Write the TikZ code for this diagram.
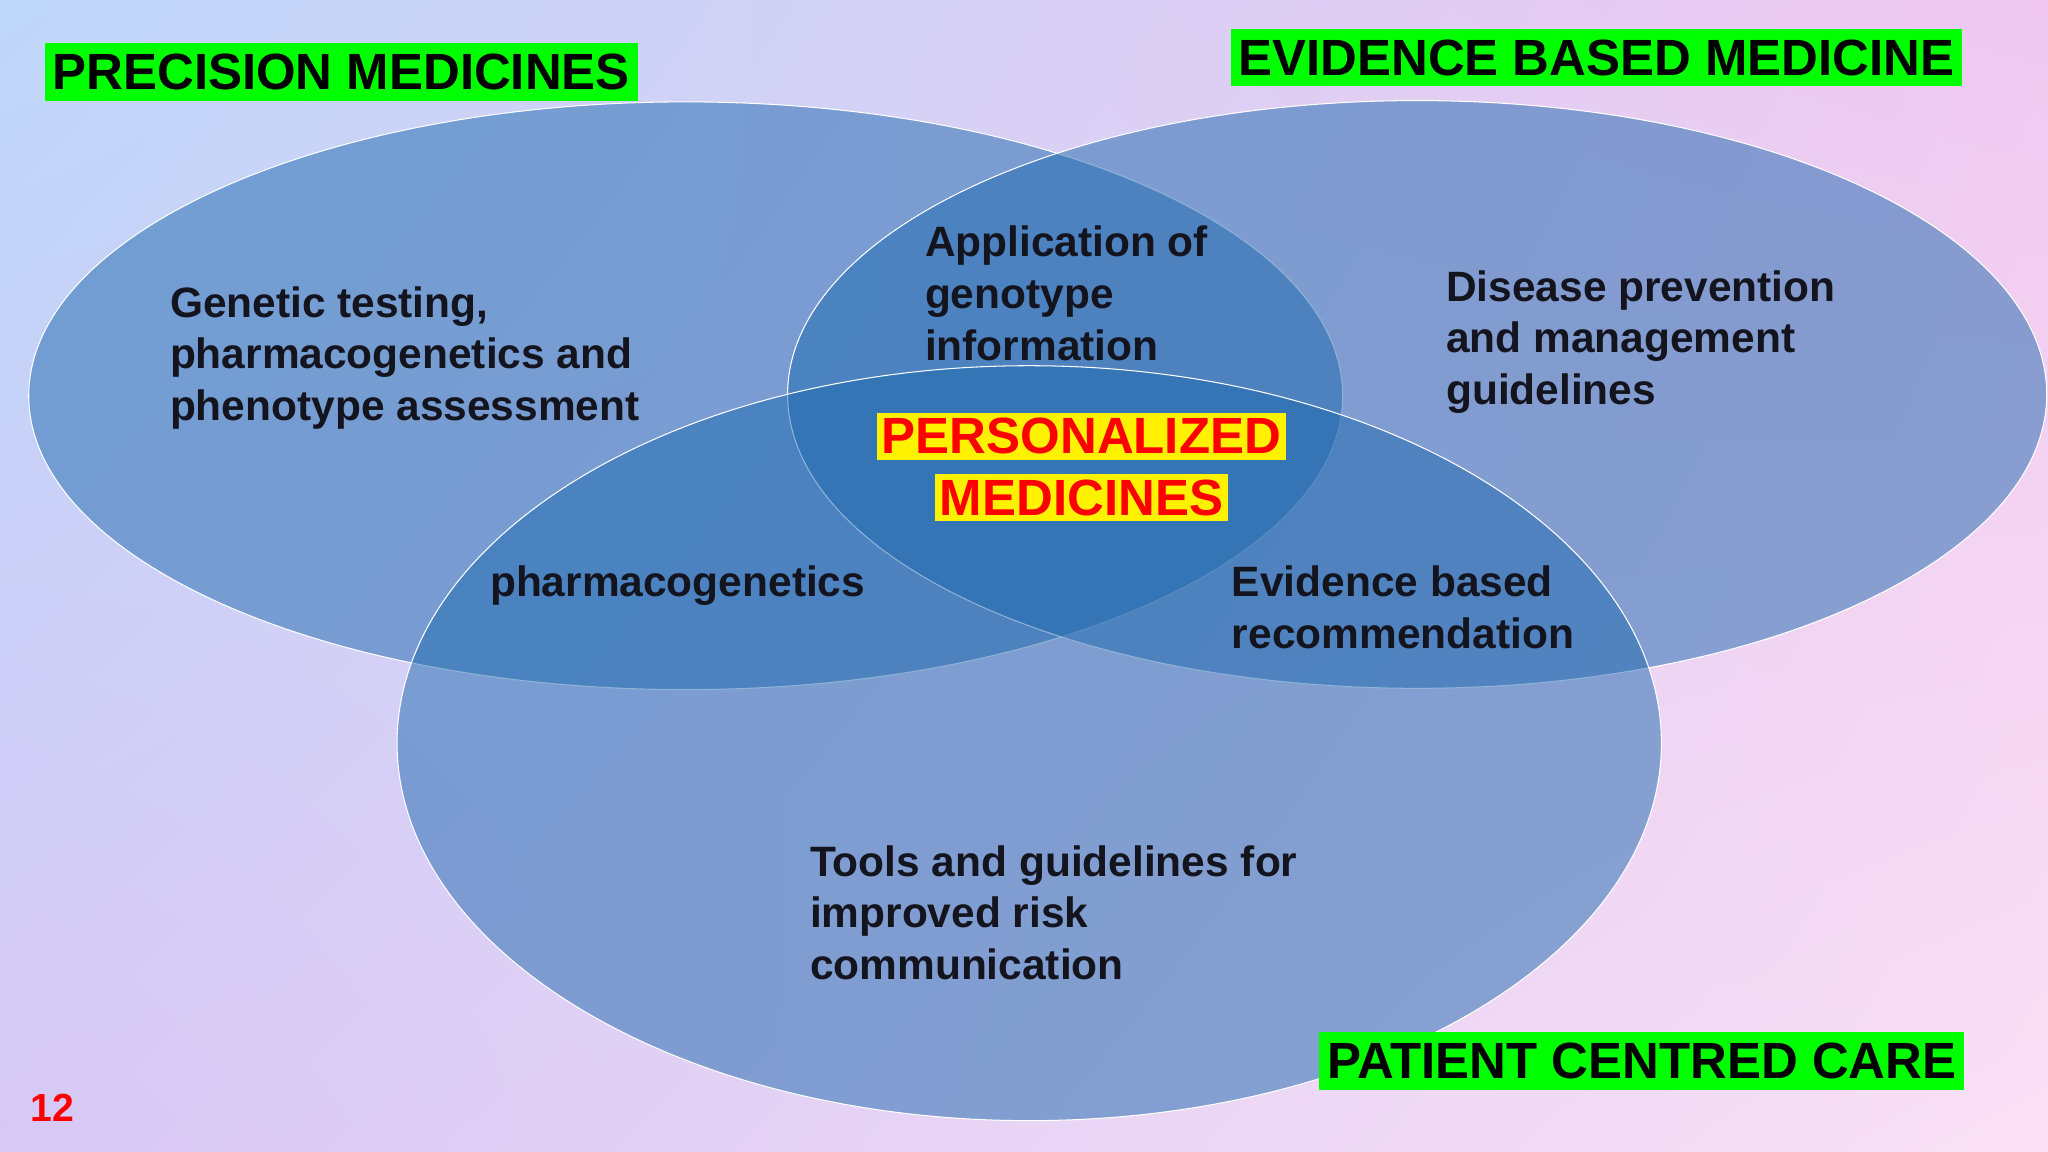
\documentclass[tikz,border=0pt]{standalone}
\usepackage{fontspec}
\setmainfont{Liberation Sans}
\usetikzlibrary{shadings}
\definecolor{vennblue}{RGB}{30,105,175}
\definecolor{bgA}{RGB}{190,215,250}
\definecolor{bgB}{RGB}{240,200,240}
\definecolor{bgC}{RGB}{215,200,245}
\definecolor{bgD}{RGB}{250,225,245}
\definecolor{tagG}{RGB}{0,255,0}
\definecolor{txt}{RGB}{20,20,30}
\begin{document}
\begin{tikzpicture}[x=1pt,y=-1pt,
  venn/.style={fill=vennblue,fill opacity=0.5,draw=white,line width=0.8pt},
  tag/.style={fill=tagG,font=\bfseries\fontsize{39}{42}\selectfont,inner xsep=6pt,inner ysep=3pt,anchor=north west,minimum height=44pt},
  body/.style={font=\bfseries\fontsize{32.5}{39.5}\selectfont,align=left,anchor=north west,inner sep=0pt,text=txt}]
\useasboundingbox (0,0) rectangle (1568,882);
\shade[upper left=bgA,upper right=bgB,lower left=bgC,lower right=bgD] (0,0) rectangle (1568,882);
\path[venn] (525,303) ellipse (503 and 225);
\path[venn] (1085,302) ellipse (482 and 225);
\path[venn] (788,569) ellipse (484 and 289);
\node[tag] (pm) at (34,33) {PRECISION MEDICINES};
\node[tag] (ebm) at (942,22) {EVIDENCE BASED MEDICINE};
\node[tag] (pcc) at (1010,790) {PATIENT CENTRED CARE};
\node[body] (gt) at (130,219) {Genetic testing,\\pharmacogenetics and\\phenotype assessment};
\node[body] (ag) at (708,173) {Application of\\genotype\\information};
\node[body] (dp) at (1107,207) {Disease prevention\\and management\\guidelines};
\node[body] (pg) at (375,433) {pharmacogenetics};
\node[body] (eb) at (943,433) {Evidence based\\recommendation};
\node[body] (tg) at (620,647) {Tools and guidelines for\\improved risk\\communication};
\node[fill=yellow,text=red,font=\bfseries\fontsize{39}{42}\selectfont,inner sep=4pt] (p1) at (828,334) {PERSONALIZED};
\node[fill=yellow,text=red,font=\bfseries\fontsize{39}{42}\selectfont,inner sep=4pt] (p2) at (828,381) {MEDICINES};
\node[text=red,font=\bfseries\fontsize{30}{32}\selectfont] (num) at (40,848) {12};
\end{tikzpicture}
\end{document}
